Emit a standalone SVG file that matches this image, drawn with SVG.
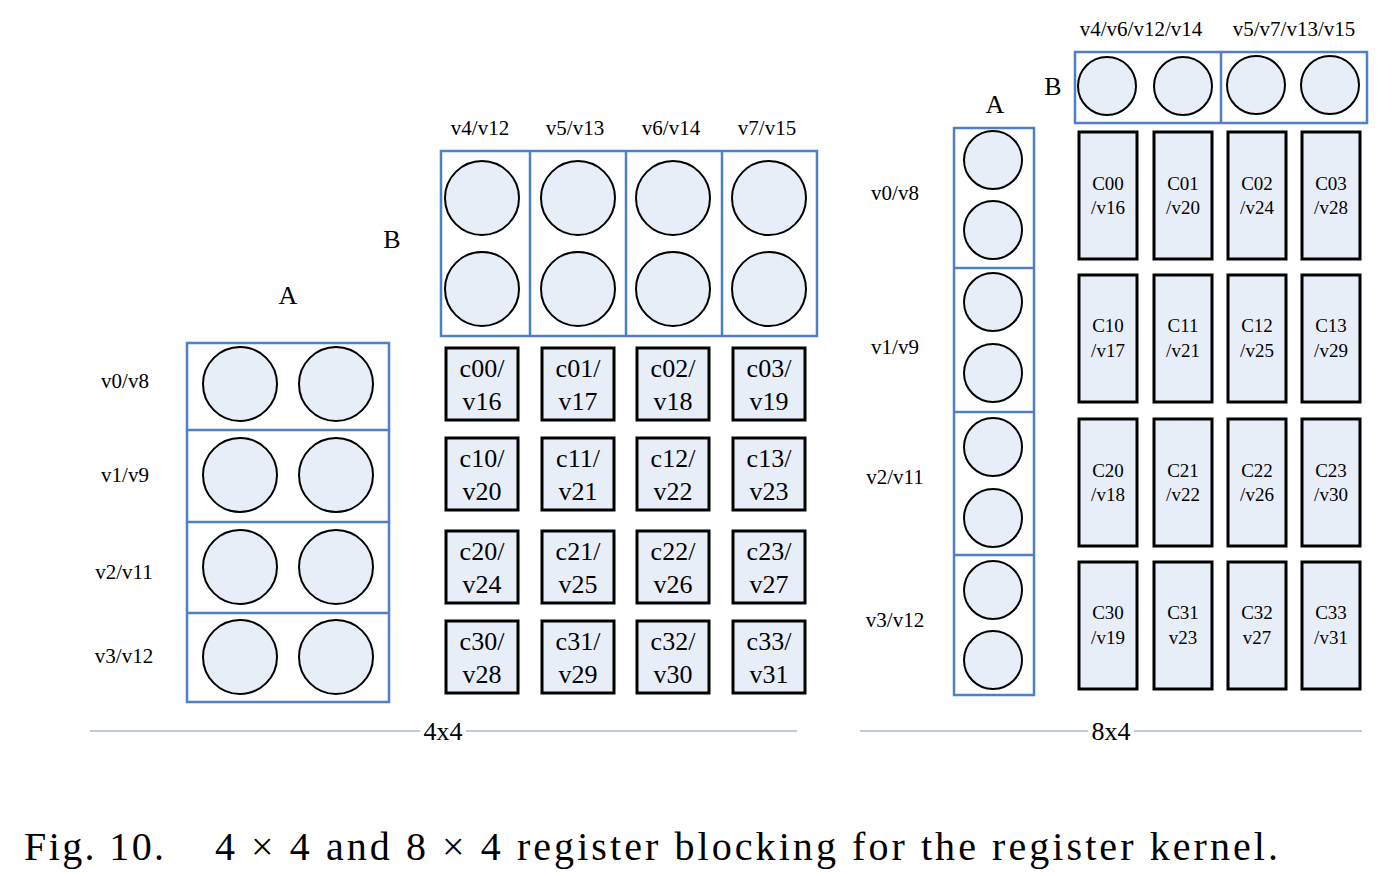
<svg xmlns="http://www.w3.org/2000/svg" width="1395" height="876" viewBox="0 0 1395 876">
<style>
text{font-family:"Liberation Serif","Times New Roman",serif;fill:#000;text-anchor:middle}
.blue{fill:none;stroke:#4f7fc4;stroke-width:2.5}
.c{fill:#e8eef8;stroke:#000;stroke-width:2}
.box{fill:#e8eef8;stroke:#000;stroke-width:3}
.l{font-size:21px}
.t{font-size:26px}
.s{font-size:19px}
.ln{stroke:#7f96b8;stroke-width:1}
.cap{font-size:40px;text-anchor:start}
</style>
<rect width="1395" height="876" fill="#fff"/>
<g id="connectors">
<line class="ln" x1="90" y1="731" x2="797" y2="731"/>
<line class="ln" x1="860" y1="731" x2="1362" y2="731"/>
</g>
<g id="A4">
<rect class="blue" x="187" y="343" width="202" height="359"/>
<line class="blue" x1="187" y1="430" x2="389" y2="430"/><line class="blue" x1="187" y1="522" x2="389" y2="522"/><line class="blue" x1="187" y1="613" x2="389" y2="613"/>
<circle class="c" cx="240" cy="384" r="37"/><circle class="c" cx="336" cy="384" r="37"/>
<circle class="c" cx="240" cy="475" r="37"/><circle class="c" cx="336" cy="475" r="37"/>
<circle class="c" cx="240" cy="567" r="37"/><circle class="c" cx="336" cy="567" r="37"/>
<circle class="c" cx="240" cy="657" r="37"/><circle class="c" cx="336" cy="657" r="37"/>
<text class="t" x="288" y="304">A</text>
<text class="l" x="125" y="388">v0/v8</text><text class="l" x="125" y="482">v1/v9</text><text class="l" x="124" y="579">v2/v11</text><text class="l" x="124" y="663">v3/v12</text>
</g>
<g id="B4">
<rect class="blue" x="441" y="151" width="376" height="185"/>
<line class="blue" x1="530" y1="151" x2="530" y2="336"/><line class="blue" x1="626" y1="151" x2="626" y2="336"/><line class="blue" x1="722" y1="151" x2="722" y2="336"/>
<circle class="c" cx="482" cy="198" r="37"/><circle class="c" cx="578" cy="198" r="37"/><circle class="c" cx="673" cy="198" r="37"/><circle class="c" cx="769" cy="198" r="37"/>
<circle class="c" cx="482" cy="289" r="37"/><circle class="c" cx="578" cy="289" r="37"/><circle class="c" cx="673" cy="289" r="37"/><circle class="c" cx="769" cy="289" r="37"/>
<text class="t" x="392" y="248">B</text>
<text class="l" x="480" y="135">v4/v12</text><text class="l" x="575" y="135">v5/v13</text><text class="l" x="671" y="135">v6/v14</text><text class="l" x="767" y="135">v7/v15</text>
</g>
<g id="C4">
<rect class="box" x="446" y="348" width="72" height="72"/><rect class="box" x="542" y="348" width="72" height="72"/><rect class="box" x="637" y="348" width="72" height="72"/><rect class="box" x="733" y="348" width="72" height="72"/>
<rect class="box" x="446" y="438" width="72" height="72"/><rect class="box" x="542" y="438" width="72" height="72"/><rect class="box" x="637" y="438" width="72" height="72"/><rect class="box" x="733" y="438" width="72" height="72"/>
<rect class="box" x="446" y="531" width="72" height="72"/><rect class="box" x="542" y="531" width="72" height="72"/><rect class="box" x="637" y="531" width="72" height="72"/><rect class="box" x="733" y="531" width="72" height="72"/>
<rect class="box" x="446" y="621" width="72" height="72"/><rect class="box" x="542" y="621" width="72" height="72"/><rect class="box" x="637" y="621" width="72" height="72"/><rect class="box" x="733" y="621" width="72" height="72"/>
<text class="t" x="482" y="377">c00/</text><text class="t" x="482" y="410">v16</text><text class="t" x="578" y="377">c01/</text><text class="t" x="578" y="410">v17</text><text class="t" x="673" y="377">c02/</text><text class="t" x="673" y="410">v18</text><text class="t" x="769" y="377">c03/</text><text class="t" x="769" y="410">v19</text>
<text class="t" x="482" y="467">c10/</text><text class="t" x="482" y="500">v20</text><text class="t" x="578" y="467">c11/</text><text class="t" x="578" y="500">v21</text><text class="t" x="673" y="467">c12/</text><text class="t" x="673" y="500">v22</text><text class="t" x="769" y="467">c13/</text><text class="t" x="769" y="500">v23</text>
<text class="t" x="482" y="560">c20/</text><text class="t" x="482" y="593">v24</text><text class="t" x="578" y="560">c21/</text><text class="t" x="578" y="593">v25</text><text class="t" x="673" y="560">c22/</text><text class="t" x="673" y="593">v26</text><text class="t" x="769" y="560">c23/</text><text class="t" x="769" y="593">v27</text>
<text class="t" x="482" y="650">c30/</text><text class="t" x="482" y="683">v28</text><text class="t" x="578" y="650">c31/</text><text class="t" x="578" y="683">v29</text><text class="t" x="673" y="650">c32/</text><text class="t" x="673" y="683">v30</text><text class="t" x="769" y="650">c33/</text><text class="t" x="769" y="683">v31</text>
<rect x="420" y="718" width="46" height="24" fill="#fff"/>
<text class="t" x="443" y="740">4x4</text>
</g>
<g id="A8">
<rect class="blue" x="954" y="128" width="80" height="567"/>
<line class="blue" x1="954" y1="268" x2="1034" y2="268"/><line class="blue" x1="954" y1="412" x2="1034" y2="412"/><line class="blue" x1="954" y1="555" x2="1034" y2="555"/>
<circle class="c" cx="993" cy="160" r="29"/><circle class="c" cx="993" cy="230" r="29"/><circle class="c" cx="993" cy="302" r="29"/><circle class="c" cx="993" cy="373" r="29"/>
<circle class="c" cx="993" cy="447" r="29"/><circle class="c" cx="993" cy="518" r="29"/><circle class="c" cx="993" cy="590" r="29"/><circle class="c" cx="993" cy="660" r="29"/>
<text class="t" x="995" y="113">A</text>
<text class="l" x="895" y="200">v0/v8</text><text class="l" x="895" y="354">v1/v9</text><text class="l" x="895" y="484">v2/v11</text><text class="l" x="895" y="627">v3/v12</text>
</g>
<g id="B8">
<rect class="blue" x="1075" y="52" width="292" height="71"/>
<line class="blue" x1="1221" y1="52" x2="1221" y2="123"/>
<circle class="c" cx="1107" cy="86" r="29"/><circle class="c" cx="1183" cy="86" r="29"/><circle class="c" cx="1256" cy="85" r="29"/><circle class="c" cx="1330" cy="85" r="29"/>
<text class="t" x="1053" y="95">B</text>
<text class="l" x="1141" y="36">v4/v6/v12/v14</text><text class="l" x="1294" y="36">v5/v7/v13/v15</text>
</g>
<g id="C8">
<rect class="box" x="1079" y="132" width="58" height="127"/><rect class="box" x="1154" y="132" width="58" height="127"/><rect class="box" x="1228" y="132" width="58" height="127"/><rect class="box" x="1302" y="132" width="58" height="127"/>
<rect class="box" x="1079" y="275" width="58" height="127"/><rect class="box" x="1154" y="275" width="58" height="127"/><rect class="box" x="1228" y="275" width="58" height="127"/><rect class="box" x="1302" y="275" width="58" height="127"/>
<rect class="box" x="1079" y="419" width="58" height="127"/><rect class="box" x="1154" y="419" width="58" height="127"/><rect class="box" x="1228" y="419" width="58" height="127"/><rect class="box" x="1302" y="419" width="58" height="127"/>
<rect class="box" x="1079" y="562" width="58" height="127"/><rect class="box" x="1154" y="562" width="58" height="127"/><rect class="box" x="1228" y="562" width="58" height="127"/><rect class="box" x="1302" y="562" width="58" height="127"/>
<text class="s" x="1108" y="190">C00</text><text class="s" x="1108" y="214">/v16</text><text class="s" x="1183" y="190">C01</text><text class="s" x="1183" y="214">/v20</text><text class="s" x="1257" y="190">C02</text><text class="s" x="1257" y="214">/v24</text><text class="s" x="1331" y="190">C03</text><text class="s" x="1331" y="214">/v28</text>
<text class="s" x="1108" y="332">C10</text><text class="s" x="1108" y="357">/v17</text><text class="s" x="1183" y="332">C11</text><text class="s" x="1183" y="357">/v21</text><text class="s" x="1257" y="332">C12</text><text class="s" x="1257" y="357">/v25</text><text class="s" x="1331" y="332">C13</text><text class="s" x="1331" y="357">/v29</text>
<text class="s" x="1108" y="477">C20</text><text class="s" x="1108" y="501">/v18</text><text class="s" x="1183" y="477">C21</text><text class="s" x="1183" y="501">/v22</text><text class="s" x="1257" y="477">C22</text><text class="s" x="1257" y="501">/v26</text><text class="s" x="1331" y="477">C23</text><text class="s" x="1331" y="501">/v30</text>
<text class="s" x="1108" y="619">C30</text><text class="s" x="1108" y="644">/v19</text><text class="s" x="1183" y="619">C31</text><text class="s" x="1183" y="644">v23</text><text class="s" x="1257" y="619">C32</text><text class="s" x="1257" y="644">v27</text><text class="s" x="1331" y="619">C33</text><text class="s" x="1331" y="644">/v31</text>
<rect x="1088" y="718" width="46" height="24" fill="#fff"/>
<text class="t" x="1111" y="740">8x4</text>
</g>
<text class="cap" x="24" y="860" textLength="140" lengthAdjust="spacing">Fig. 10.</text>
<text class="cap" x="215" y="860" textLength="1063" lengthAdjust="spacing">4 × 4 and 8 × 4 register blocking for the register kernel.</text>
</svg>
